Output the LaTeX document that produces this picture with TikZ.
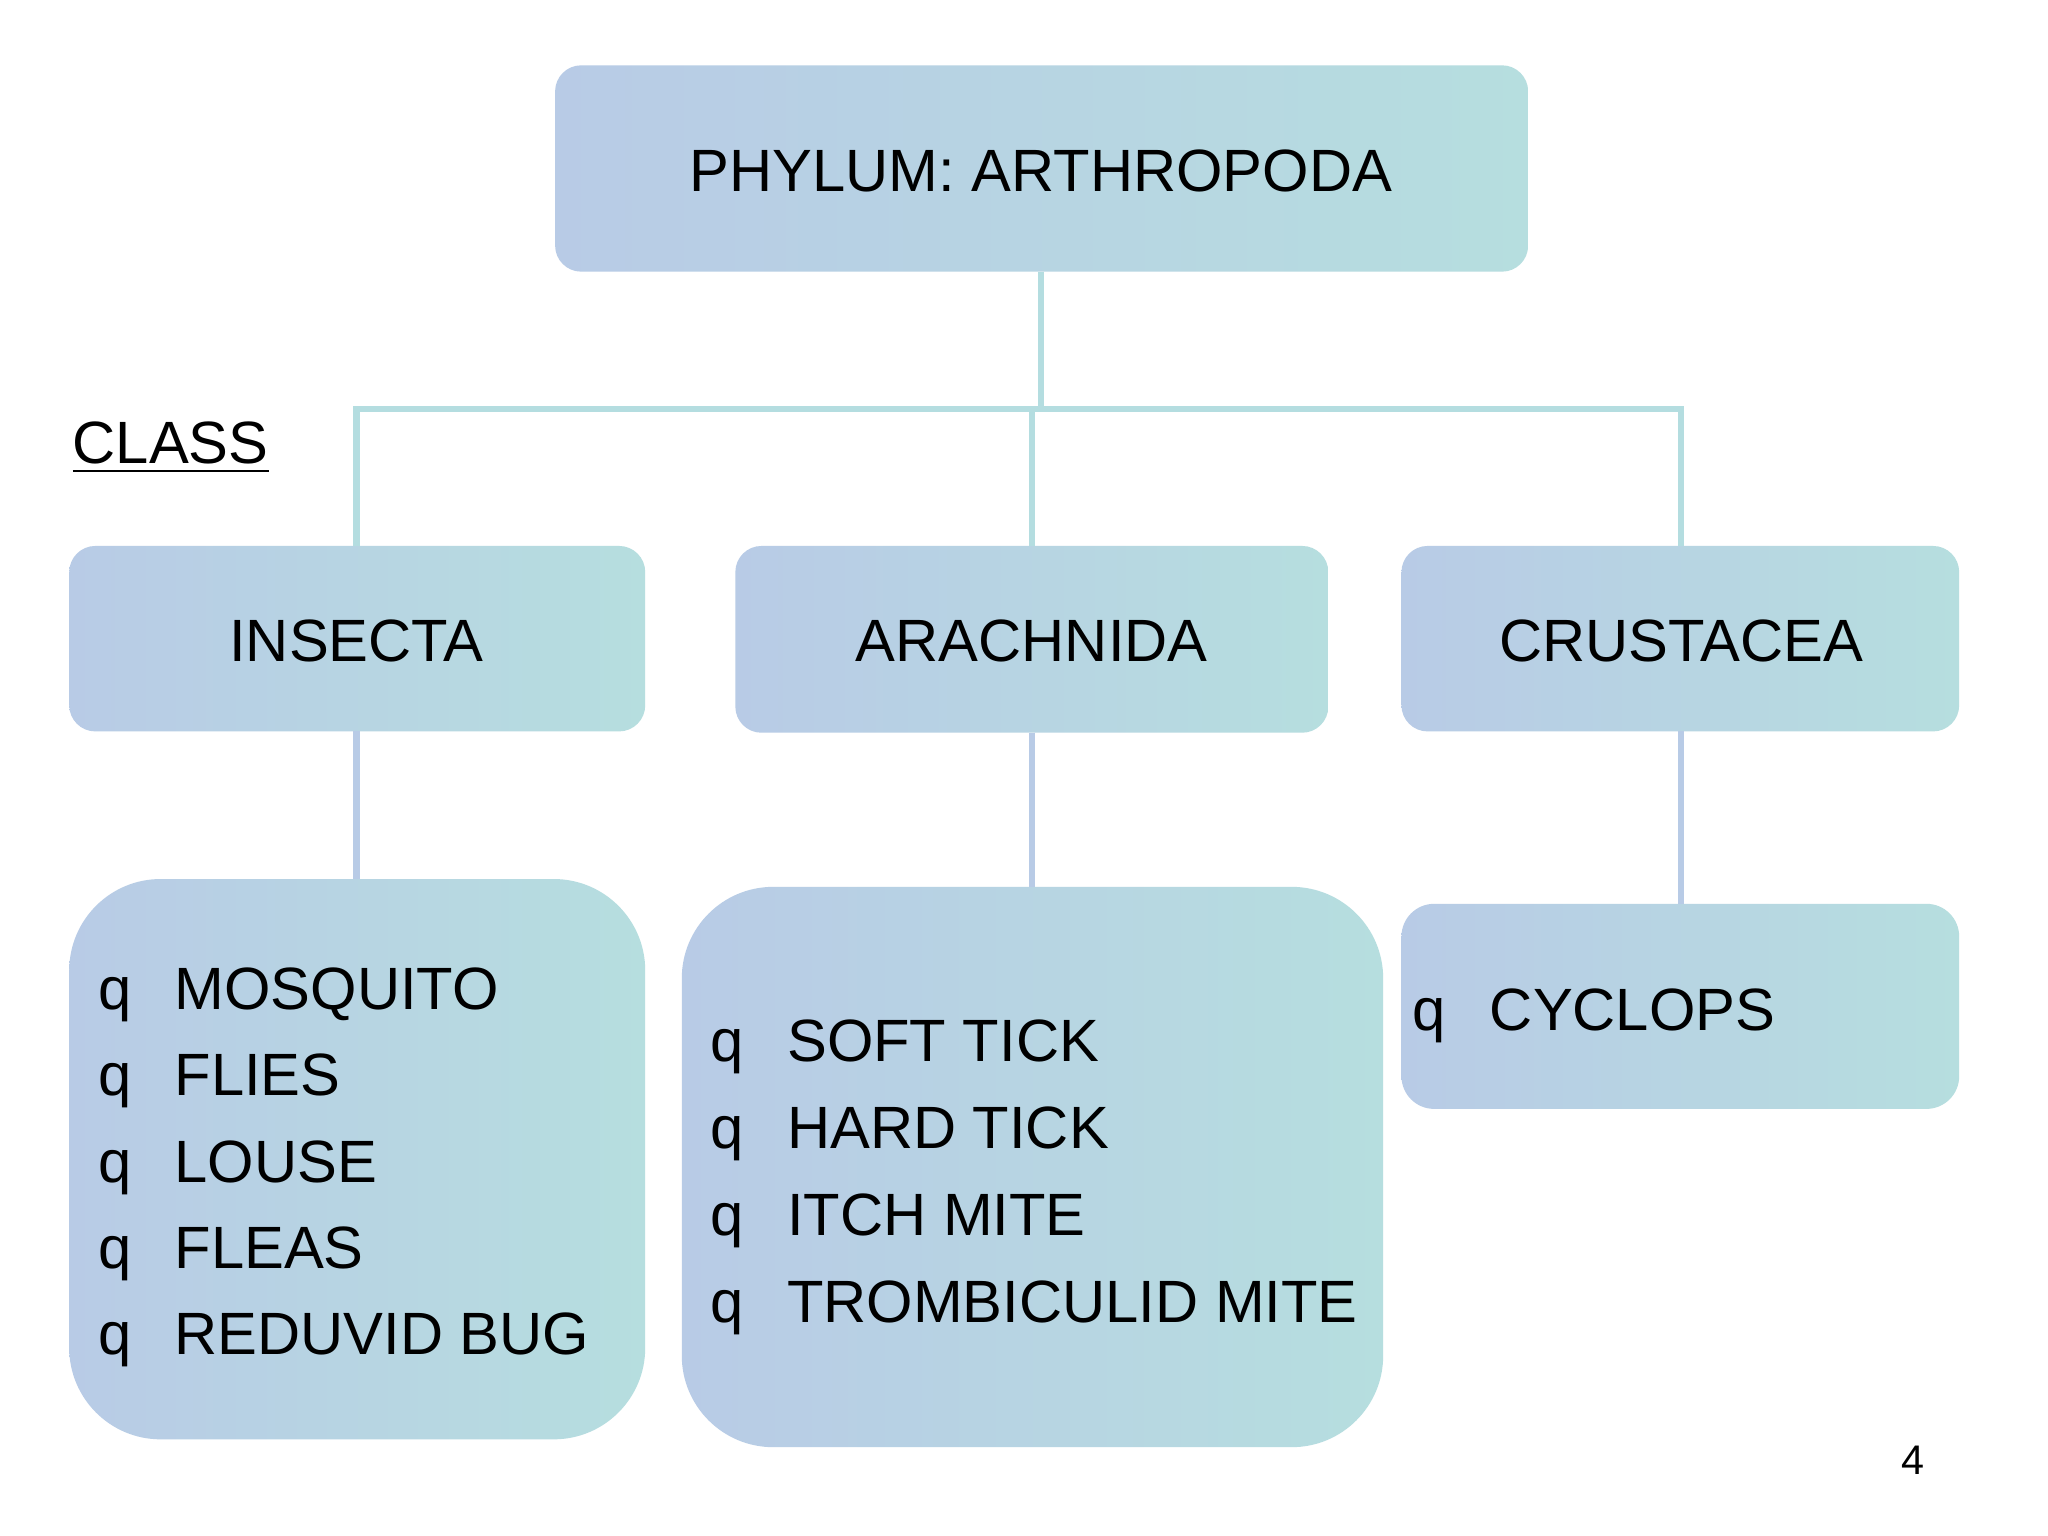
\documentclass[tikz,border=0pt]{standalone}
\usepackage{fontspec}
\setmainfont{Liberation Sans}
\definecolor{boxA}{HTML}{B8CBE6}
\definecolor{boxB}{HTML}{B6DEDF}
\definecolor{teal}{HTML}{B4DDE0}
\definecolor{blueline}{HTML}{B8CBE6}
\begin{document}
\begin{tikzpicture}[x=0.01cm,y=-0.01cm,
  box/.style={shade,shading angle=135,left color=boxA,right color=boxB,draw=none,rounded corners=#1},
  box/.default=0.2cm,
  lbl/.style={font=\fontsize{13}{16}\selectfont,inner sep=0},
  item/.style={font=\fontsize{13}{16}\selectfont,inner sep=0,anchor=base west},
  link/.style={line width=0.05cm}]
\useasboundingbox (0,0) rectangle (1568,1176);
\fill[white] (0,0) rectangle (1568,1176);
\coordinate (jt) at (797,313);
\coordinate (jl) at (273,313);
\coordinate (jr) at (1287,313);
\coordinate (jm) at (790,313);
\path[box] (425,50) rectangle (1170,208);
\node[lbl] (phy) at (797,131) {PHYLUM: ARTHROPODA};
\path[box] (53,418) rectangle (494,560);
\node[lbl] (ins) at (273,491) {INSECTA};
\path[box] (563,418) rectangle (1017,561);
\node[lbl] (ara) at (790,491) {ARACHNIDA};
\path[box] (1073,418) rectangle (1500,560);
\node[lbl] (cru) at (1287,491) {CRUSTACEA};
\path[box=0.7cm] (53,673) rectangle (494,1102);
\path[box=0.7cm] (522,679) rectangle (1059,1108);
\path[box=0.25cm] (1073,692) rectangle (1500,849);
\draw[teal,link] (797,208) -- (jt);
\draw[teal,link] (273,418) -- (jl) -- (jr) -- (1287,418);
\draw[teal,link] (jm) -- (790,418);
\draw[blueline,link] (273,560) -- (273,673);
\draw[blueline,link] (790,561) -- (790,679);
\draw[blueline,link] (1287,560) -- (1287,692);
\node[font=\fontsize{13}{16}\selectfont,inner sep=0,anchor=west] (cls) at (55,343) {\underline{CLASS}};
\foreach \t [count=\i from 0] in {MOSQUITO,FLIES,LOUSE,FLEAS,REDUVID BUG}{
  \node[item] (iq\i) at (75,{773+66*\i}) {q};
  \node[item] (it\i) at (133,{773+66*\i}) {\t};
}
\foreach \t [count=\i from 0] in {SOFT TICK,HARD TICK,ITCH MITE,TROMBICULID MITE}{
  \node[item] (aq\i) at (543,{813+66.5*\i}) {q};
  \node[item] (at\i) at (602,{813+66.5*\i}) {\t};
}
\node[item] (cq) at (1081,789) {q};
\node[item] (ct) at (1140,789) {CYCLOPS};
\node[font=\fontsize{9}{11}\selectfont,inner sep=0] (pg) at (1465,1118) {4};
\end{tikzpicture}
\end{document}
